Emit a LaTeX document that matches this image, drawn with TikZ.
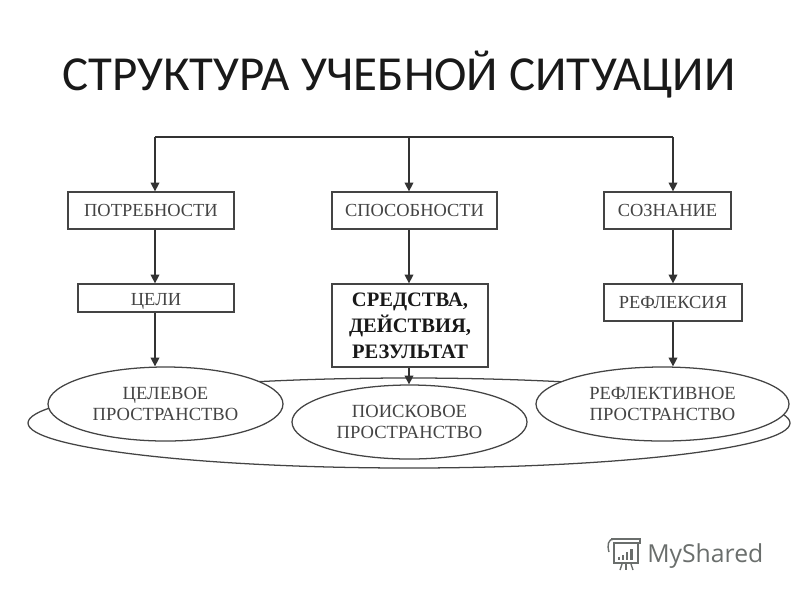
\documentclass[tikz,border=0pt]{standalone}
\usepackage{fontspec}
\usetikzlibrary{shapes.geometric,arrows.meta}
\setmainfont{Liberation Serif}
\newfontfamily\titlefont{Carlito}
\newfontfamily\logofont{Open Sans}
\definecolor{inkgray}{HTML}{444444}
\definecolor{logogray}{HTML}{6A6E6C}
\tikzset{
	box/.style={draw=inkgray, line width=0.9pt, fill=white, inner sep=0pt, align=center, text=inkgray, font=\fontsize{13.1}{16}\selectfont},
	space/.style={ellipse, draw=inkgray, line width=0.9pt, fill=white, inner sep=0pt, align=center, text=inkgray, font=\fontsize{13.2}{15.2}\selectfont},
	link/.style={draw=black!80, line width=0.9pt, -{Triangle[length=2.2mm,width=2.2mm]}},
	logoline/.style={draw=logogray, line width=1pt}
}
\begin{document}
\begin{tikzpicture}[x=0.025cm,y=-0.025cm]
	\useasboundingbox (0,0) rectangle (800,600);

	\node[font=\titlefont\fontsize{34.8}{40}\selectfont, text=black!90] (title) at (399,75) {СТРУКТУРА УЧЕБНОЙ СИТУАЦИИ};

	% top line
	\coordinate (topa) at (155,137);
	\coordinate (topb) at (409,137);
	\coordinate (topc) at (673,137);
	\draw[draw=black!80, line width=0.9pt] (topa) -- (topc);

	% big ellipse
	\node[space, minimum width=762*0.025cm, minimum height=90*0.025cm] (whole) at (409,423) {};

	% boxes
	\node[box, minimum width=166*0.025cm, minimum height=37*0.025cm] (needs) at (151,210.5) {ПОТРЕБНОСТИ};
	\node[box, minimum width=165*0.025cm, minimum height=37*0.025cm] (abilities) at (414.5,210.5) {СПОСОБНОСТИ};
	\node[box, minimum width=127*0.025cm, minimum height=37*0.025cm] (mind) at (667.5,210.5) {СОЗНАНИЕ};
	\node[box, minimum width=156*0.025cm, minimum height=28*0.025cm] (goals) at (156,298) {\raisebox{-5.5pt}[0pt][0pt]{ЦЕЛИ}};
	\node[box, minimum width=156*0.025cm, minimum height=83*0.025cm, font=\fontsize{14.6}{18.5}\selectfont\bfseries, text=black!90] (means) at (410,325.5) {СРЕДСТВА,\\ДЕЙСТВИЯ,\\РЕЗУЛЬТАТ};
	\node[box, minimum width=138*0.025cm, minimum height=37*0.025cm] (reflex) at (673,302.5) {РЕФЛЕКСИЯ};

	% ellipses
	\node[space, minimum width=235*0.025cm, minimum height=74*0.025cm] (goalspace) at (165.5,404) {ЦЕЛЕВОЕ\\ПРОСТРАНСТВО};
	\node[space, minimum width=235*0.025cm, minimum height=74*0.025cm] (searchspace) at (409.5,422) {ПОИСКОВОЕ\\ПРОСТРАНСТВО};
	\node[space, minimum width=253*0.025cm, minimum height=74*0.025cm] (reflexspace) at (662.5,404) {РЕФЛЕКТИВНОЕ\\ПРОСТРАНСТВО};

	% arrows
	\draw[link] (topa) -- (topa |- needs.north);
	\draw[link] (topb) -- (topb |- abilities.north);
	\draw[link] (topc) -- (topc |- mind.north);
	\draw[link] (topa |- needs.south) -- (topa |- goals.north);
	\draw[link] (topb |- abilities.south) -- (topb |- means.north);
	\draw[link] (topc |- mind.south) -- (topc |- reflex.north);
	\draw[link] (topa |- goals.south) -- (topa |- goalspace.north);
	\draw[link] (topb |- means.south) -- (topb |- searchspace.north);
	\draw[link] (topc |- reflex.south) -- (topc |- reflexspace.north);

	% logo
	\draw[logoline] (614,543) rectangle (638,563);
	\draw[logoline] (611,539) -- (640,539) -- (640,543) -- (614,543);
	\draw[logoline] (614,539) .. controls (608,539) and (607,545) .. (609,552);
	\draw[logoline] (622,564) -- (620,570);
	\draw[logoline] (626,564) -- (626,570);
	\draw[logoline] (631,564) -- (633,570);
	\fill[logogray] (618,557) rectangle (620,560);
	\fill[logogray] (622,555) rectangle (624,560);
	\fill[logogray] (626,552) rectangle (628,560);
	\fill[logogray] (630,549) rectangle (633,560);
	\node[font=\logofont\fontsize{17.6}{20}\selectfont, text=logogray, inner sep=0pt, anchor=base west] (brand) at (647,562) {MyShared};
\end{tikzpicture}
\end{document}
